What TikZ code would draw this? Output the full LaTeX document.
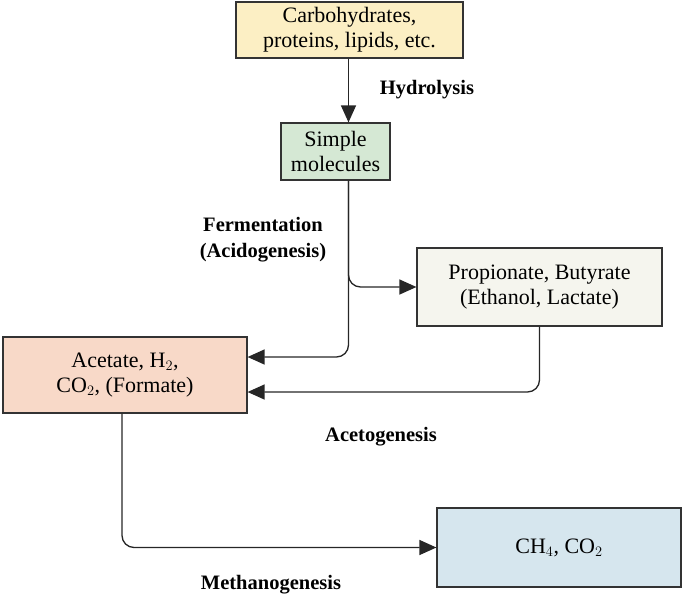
\documentclass[tikz,border=0pt]{standalone}
\usepackage{fontspec}
\setmainfont{Liberation Serif}
\usetikzlibrary{arrows.meta}
\begin{document}
\begin{tikzpicture}[x=1pt,y=-1pt,
  box/.style={draw=black!80,line width=1.2pt,align=center,font=\fontsize{22}{25}\selectfont,inner sep=0pt},
  lab/.style={font=\bfseries\fontsize{20.5}{26}\selectfont,align=center},
  arr/.style={draw=black!85,line width=1.3pt,-{Triangle[length=17pt,width=15pt]},rounded corners=12pt}]
\useasboundingbox (0,0) rectangle (685,600);
\node[box,fill={rgb,255:red,252;green,239;blue,196},minimum width=227,minimum height=56] (c) at (349.5,30) {Carbohydrates,\\proteins, lipids, etc.};
\node[box,fill={rgb,255:red,213;green,232;blue,212},minimum width=109,minimum height=57] (s) at (335.5,151.5) {Simple\\molecules};
\node[box,fill={rgb,255:red,245;green,245;blue,238},minimum width=245,minimum height=78] (p) at (539.5,287) {Propionate, Butyrate\\(Ethanol, Lactate)};
\node[box,fill={rgb,255:red,248;green,217;blue,200},minimum width=244,minimum height=76] (a) at (125,375) {Acetate, H$_2$,\\CO$_2$, (Formate)};
\node[box,fill={rgb,255:red,214;green,230;blue,238},minimum width=244,minimum height=79] (m) at (559,547.5) {CH$_4$, CO$_2$};
\draw[arr] (c.south -| s.north) ++(13,0) coordinate (c1) -- (c1 |- s.north);
\draw[arr] (s.south) ++(13,0) coordinate (s1) -- (s1 |- p.west) -- (p.west);
\draw[arr] (s1) -- (s1 |- 0,357) -- (a.east |- 0,357);
\draw[arr] (p.south) -- (p.south |- 0,392) -- (a.east |- 0,392);
\draw[arr] (a.south) ++(-3,0) coordinate (a1) -- (a1 |- m.west) -- (m.west);
\node[lab] (h) at (427,90) {Hydrolysis};
\node[lab] (f) at (263,240) {Fermentation\\(Acidogenesis)};
\node[lab] (ac) at (381,437) {Acetogenesis};
\node[lab] (me) at (271,585) {Methanogenesis};
\end{tikzpicture}
\end{document}
